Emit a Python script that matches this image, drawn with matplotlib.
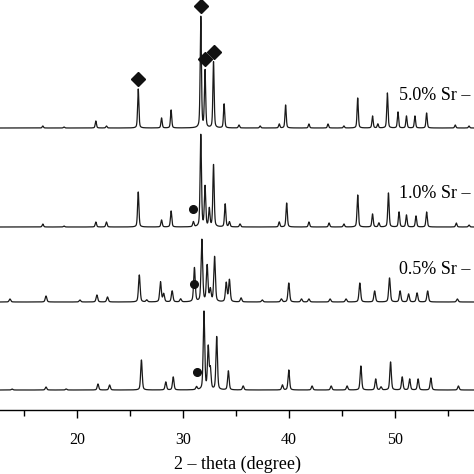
import numpy as np
import matplotlib
matplotlib.use("Agg")
import matplotlib.pyplot as plt

# ---- data (peak position in 2-theta degrees, peak intensity a.u.) ----
pos_50 = [16.8, 18.8, 21.8, 22.8, 25.8, 28.0, 28.9, 31.7, 32.1, 32.9, 33.9, 35.3, 37.3, 39.1, 39.7,
          41.9, 43.7, 45.2, 46.5, 47.9, 48.4, 49.3, 50.3, 51.1, 51.9, 53.0, 55.7, 57.0]
int_50 = [2, 1, 7, 2, 39, 10, 18, 111, 57, 66, 24, 3, 2, 4, 23,
          4, 4, 2, 30, 12, 4, 35, 16, 12, 12, 15, 3, 2]

pos_10 = [16.8, 18.8, 21.8, 22.8, 25.8, 28.0, 28.9, 31.0, 31.7, 32.1, 32.5, 32.9, 34.0, 34.4, 35.4,
          39.1, 39.8, 41.9, 43.8, 45.2, 46.5, 47.9, 48.5, 49.4, 50.4, 51.1, 52.0, 53.0, 55.8, 57.0]
int_10 = [3, 1, 5, 5, 35, 7, 16, 5, 92, 40, 18, 62, 23, 5, 3,
          5, 24, 5, 4, 3, 32, 13, 4, 34, 15, 12, 11, 15, 4, 2]

pos_05 = [13.7, 17.1, 20.3, 21.9, 22.9, 25.9, 26.6, 27.9, 28.2, 29.0, 29.8, 31.1, 31.8, 32.3, 32.6,
          33.0, 34.1, 34.4, 35.5, 37.5, 39.3, 40.0, 41.2, 41.9, 43.9, 45.4, 46.7, 48.1, 49.5, 50.5,
          51.3, 52.1, 53.1, 55.9]
int_05 = [3, 6, 2, 7, 5, 27, 2, 20, 8, 11, 3, 34, 62, 36, 12,
          45, 19, 22, 4, 2, 3, 19, 3, 3, 3, 3, 19, 11, 24, 11,
          8, 9, 11, 3]

pos_00 = [13.9, 17.1, 19.0, 22.0, 23.1, 26.1, 28.4, 29.1, 31.3, 32.0, 32.4, 32.6, 33.2, 34.3, 35.7,
          39.4, 40.0, 42.2, 44.0, 45.5, 46.8, 48.2, 48.7, 49.6, 50.7, 51.4, 52.2, 53.4, 56.0]
int_00 = [1, 3, 1, 6, 5, 30, 8, 13, 3, 78, 42, 20, 53, 19, 4,
          5, 20, 4, 4, 4, 24, 11, 3, 28, 13, 11, 11, 12, 4]

labels = ["5.0% Sr \u2013", "1.0% Sr \u2013", "0.5% Sr \u2013", None]
diamond_pos = [25.8, 31.7, 32.1, 32.9]
circle_pos = [31.0, 31.1, 31.3]

series = [(pos_50, int_50, 0.14), (pos_10, int_10, 0.15), (pos_05, int_05, 0.18), (pos_00, int_00, 0.17)]
offsets = [282, 183, 108, 20]

X_MIN, X_MAX = 12.76, 57.47


def pattern(x, pos, inten, w):
    y = np.zeros_like(x)
    for p, h in zip(pos, inten):
        g = np.exp(-4 * np.log(2) * ((x - p) / w) ** 2)
        l = 1.0 / (1.0 + 4 * ((x - p) / w) ** 2)
        y += h * (0.6 * g + 0.4 * l)
    return y


plt.rcParams["font.family"] = ["Liberation Serif", "DejaVu Serif"]
fig = plt.figure(figsize=(4.74, 4.74), dpi=100)
ax = fig.add_axes([0, 64 / 474, 1, 410 / 474])
ax.set_xlim(X_MIN, X_MAX)
ax.set_ylim(0, 410)

x = np.arange(X_MIN - 0.5, X_MAX + 0.5, 0.005)
for i, ((pos, inten, w), off) in enumerate(zip(series, offsets)):
    y = pattern(x, pos, inten, w) + off
    ax.plot(x, y, color="#1a1a1a", lw=0.9)
    if labels[i]:
        ax.text(50.4, off + 33, labels[i], fontsize=13, ha="left", va="center", clip_on=False)

# diamonds on top pattern
prof_top = lambda p: pattern(np.array([p]), series[0][0], series[0][1], series[0][2])[0] + offsets[0]
for p in diamond_pos:
    ax.plot(p, prof_top(p) + 10, marker="D", color="#111111", ms=7.5, clip_on=False)
# circles
for p, off in zip(circle_pos, offsets[1:]):
    ax.plot(p, off + 18, marker="o", color="#111111", ms=5.5)

for s in ["left", "right", "top"]:
    ax.spines[s].set_visible(False)
ax.spines["bottom"].set_linewidth(1.0)
ax.set_yticks([])
ax.set_xticks([20, 30, 40, 50])
ax.set_xticks([15, 25, 35, 45, 55], minor=True)
ax.tick_params(axis="x", which="major", direction="out", length=6, width=1, labelsize=11.5, pad=10)
ax.tick_params(axis="x", which="minor", direction="out", length=4, width=1)

fig.text(237 / 474, 1 - 464 / 474, "2 \u2013 theta (degree)", ha="center", va="center", fontsize=13)

fig.savefig("out.png", dpi=100)
